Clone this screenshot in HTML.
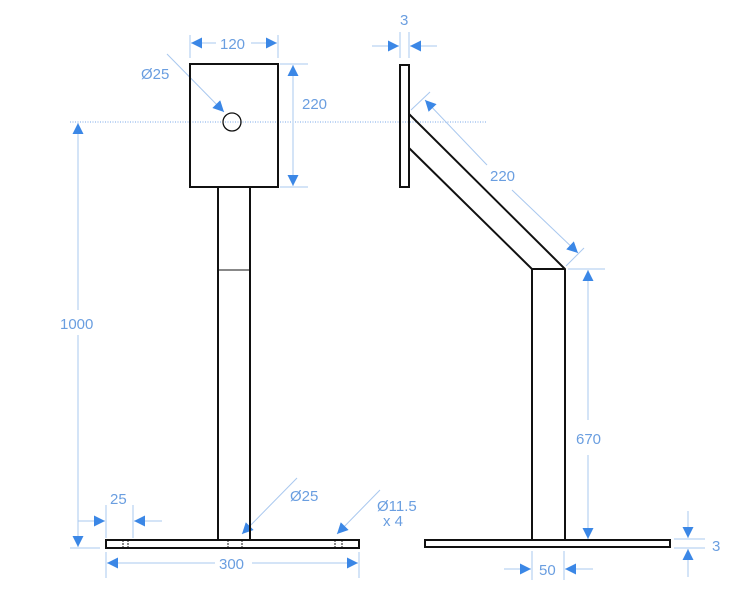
<!DOCTYPE html>
<html><head><style>
body{margin:0;background:#fff}
text{font-family:"Liberation Sans",sans-serif;font-size:15px;fill:#6a9ee0}
</style></head><body>
<svg width="733" height="593" viewBox="0 0 733 593" xmlns="http://www.w3.org/2000/svg">
<defs>
<marker id="a" viewBox="0 0 10 10" refX="10" refY="5" markerWidth="14" markerHeight="11" markerUnits="userSpaceOnUse" orient="auto"><path d="M0,0L10,5L0,10z" fill="#3b87e6"/></marker>
</defs>
<g stroke="#a9c8ef" stroke-width="1" fill="none">
<line x1="70" y1="122" x2="487" y2="122" stroke-dasharray="1,1.5" stroke="#7aa8e8"/>
<line x1="190" y1="35" x2="190" y2="58"/><line x1="278" y1="35" x2="278" y2="58"/>
<line x1="216" y1="43" x2="191" y2="43" marker-end="url(#a)"/><line x1="251" y1="43" x2="277" y2="43" marker-end="url(#a)"/>
<line x1="280" y1="64" x2="308" y2="64"/><line x1="280" y1="187" x2="308" y2="187"/>
<line x1="293" y1="100" x2="293" y2="65" marker-end="url(#a)"/><line x1="293" y1="100" x2="293" y2="186" marker-end="url(#a)"/>
<line x1="167" y1="54" x2="224" y2="112" marker-end="url(#a)"/>
<line x1="78" y1="310" x2="78" y2="123" marker-end="url(#a)"/><line x1="78" y1="335" x2="78" y2="547" marker-end="url(#a)"/>
<line x1="70" y1="548" x2="100" y2="548"/>
<line x1="106" y1="505" x2="106" y2="538"/><line x1="133" y1="505" x2="133" y2="538"/>
<line x1="78" y1="521" x2="105" y2="521" marker-end="url(#a)"/><line x1="162" y1="521" x2="134" y2="521" marker-end="url(#a)"/>
<line x1="106" y1="552" x2="106" y2="578"/><line x1="359" y1="552" x2="359" y2="578"/>
<line x1="215" y1="563" x2="107" y2="563" marker-end="url(#a)"/><line x1="252" y1="563" x2="358" y2="563" marker-end="url(#a)"/>
<line x1="297" y1="478" x2="242" y2="534" marker-end="url(#a)"/>
<line x1="380" y1="490" x2="337" y2="534" marker-end="url(#a)"/>
<line x1="400" y1="32" x2="400" y2="58"/><line x1="409" y1="32" x2="409" y2="58"/>
<line x1="372" y1="46" x2="399" y2="46" marker-end="url(#a)"/><line x1="437" y1="46" x2="410" y2="46" marker-end="url(#a)"/>
<line x1="411" y1="110" x2="430" y2="92"/><line x1="566" y1="266" x2="584" y2="248"/>
<line x1="487" y1="165" x2="425" y2="100" marker-end="url(#a)"/><line x1="512" y1="190" x2="578" y2="253" marker-end="url(#a)"/>
<line x1="568" y1="269" x2="605" y2="269"/>
<line x1="588" y1="420" x2="588" y2="270" marker-end="url(#a)"/><line x1="588" y1="455" x2="588" y2="539" marker-end="url(#a)"/>
<line x1="532" y1="551" x2="532" y2="580"/><line x1="564" y1="551" x2="564" y2="580"/>
<line x1="504" y1="569" x2="531" y2="569" marker-end="url(#a)"/><line x1="593" y1="569" x2="565" y2="569" marker-end="url(#a)"/>
<line x1="674" y1="539" x2="705" y2="539"/><line x1="674" y1="548" x2="705" y2="548"/>
<line x1="688" y1="511" x2="688" y2="538" marker-end="url(#a)"/><line x1="688" y1="577" x2="688" y2="549" marker-end="url(#a)"/>
</g>
<g stroke="#111" stroke-width="2" fill="none">
<rect x="190" y="64" width="88" height="123"/>
<circle cx="232" cy="122" r="9" stroke-width="1.3"/>
<path d="M218,187V540M250,187V540"/>
<line x1="218" y1="270" x2="250" y2="270" stroke-width="1"/>
<rect x="106" y="540" width="253" height="8"/>
<rect x="400" y="65" width="9" height="122"/>
<path d="M409,114L565,269V540M409,148L532,269V540M532,269H565"/>
<rect x="425" y="540" width="245" height="7"/>
</g>
<g stroke="#111" stroke-width="1" stroke-dasharray="2,1">
<path d="M123,540V548M128,540V548M228,540V548M242,540V548M335,540V548M342,540V548"/>
</g>
<text x="220" y="49">120</text>
<text x="141" y="79">Ø25</text>
<text x="302" y="109">220</text>
<text x="60" y="329">1000</text>
<text x="110" y="504">25</text>
<text x="290" y="501">Ø25</text>
<text x="377" y="511">Ø11.5</text>
<text x="383" y="526">x 4</text>
<text x="219" y="569">300</text>
<text x="400" y="25">3</text>
<text x="490" y="181">220</text>
<text x="576" y="444">670</text>
<text x="539" y="575">50</text>
<text x="712" y="551">3</text>
</svg>
</body></html>
